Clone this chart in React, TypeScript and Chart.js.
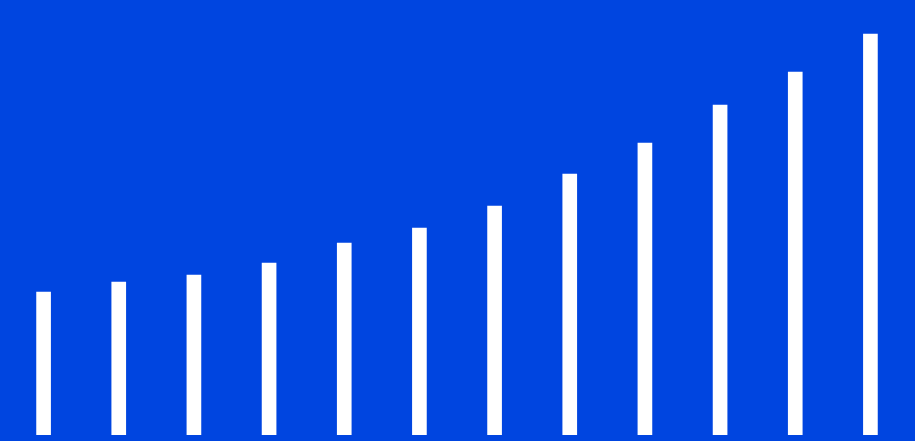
import { useEffect, useRef } from 'react';
import { Chart } from 'chart.js/auto';

// Twelve periods, no labels shown in the picture
const labels = ['1', '2', '3', '4', '5', '6', '7', '8', '9', '10', '11', '12'];
const values = [14.3, 15.3, 16.0, 17.2, 19.2, 20.7, 22.9, 26.1, 29.2, 33.0, 36.3, 40.1];

const BG = '#0045E0';

export default function App() {
	const canvasRef = useRef(null);

	useEffect(() => {
		document.body.style.margin = '0';
		if (!canvasRef.current) return;

		const chart = new Chart(canvasRef.current, {
			type: 'bar',
			data: {
				labels,
				datasets: [
					{
						data: values,
						backgroundColor: '#ffffff',
						borderWidth: 0,
						barThickness: 14,
					},
				],
			},
			options: {
				responsive: true,
				maintainAspectRatio: false,
				animation: false,
				layout: {
					padding: { left: 6, right: 7, top: 5, bottom: 6 },
				},
				plugins: {
					legend: { display: false },
					tooltip: { enabled: false },
				},
				scales: {
					x: {
						display: false,
						grid: { display: false },
					},
					y: {
						display: false,
						min: 0,
						max: 43,
						grid: { display: false },
					},
				},
			},
		});

		return () => chart.destroy();
	}, []);

	return (
		<div style={{ width: 915, height: 441, background: BG, position: 'relative' }}>
			<canvas ref={canvasRef} />
		</div>
	);
}
